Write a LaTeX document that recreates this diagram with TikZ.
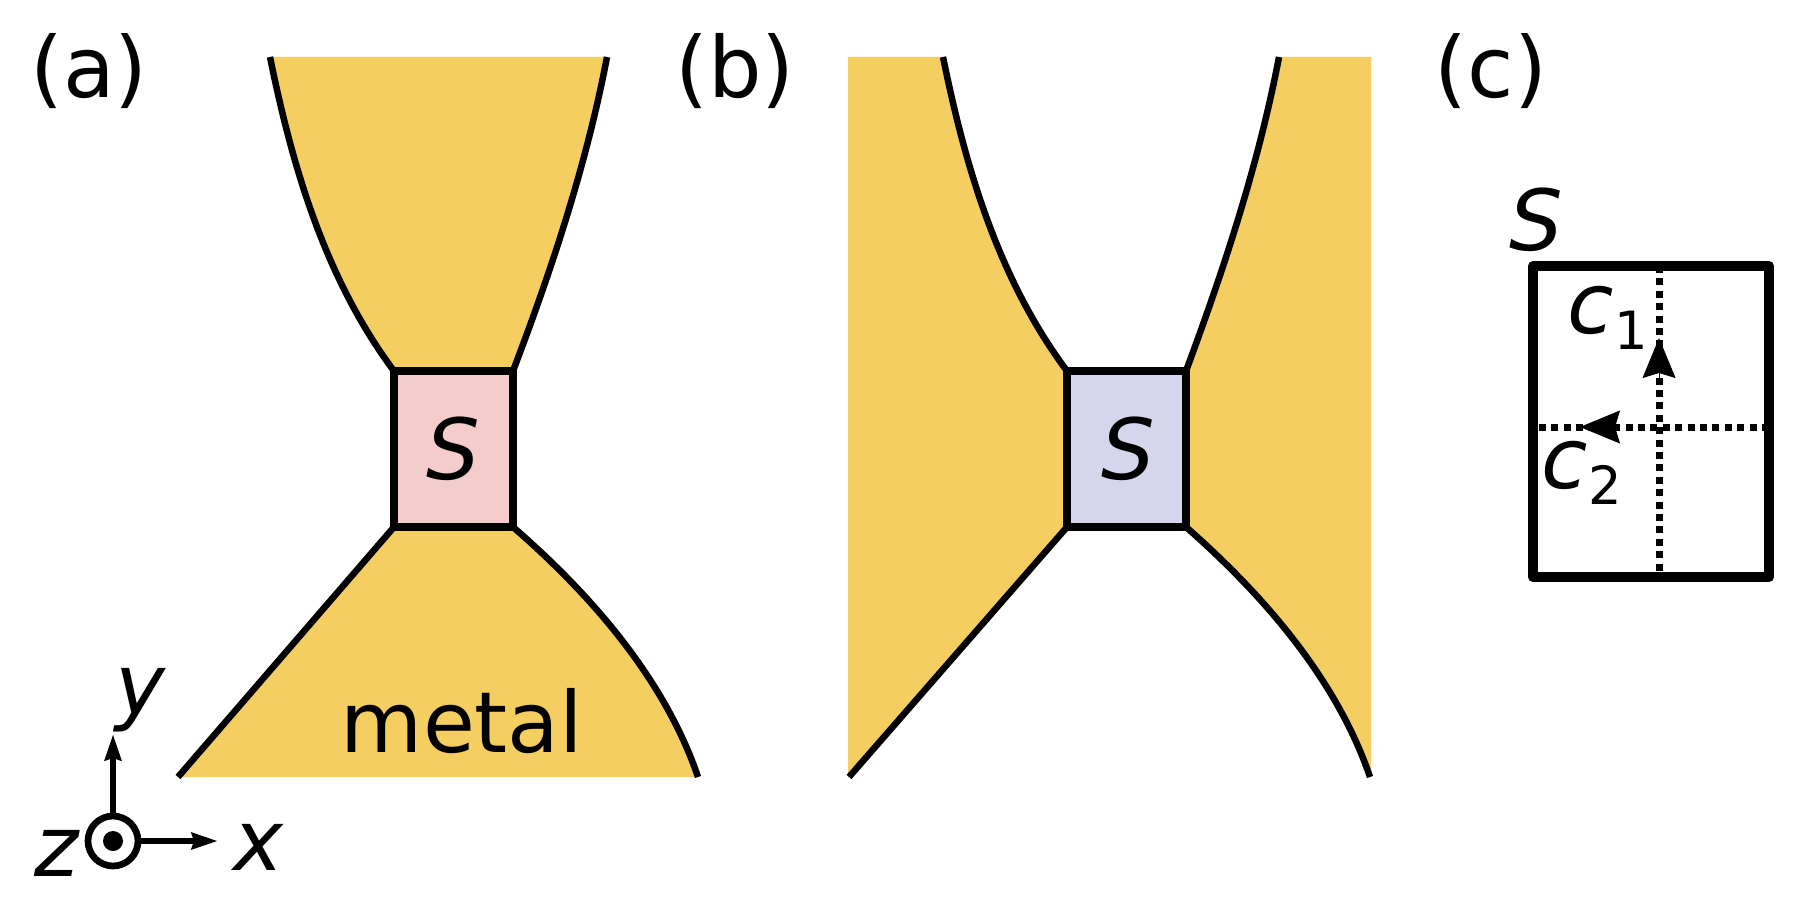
\documentclass[tikz,border=0pt]{standalone}
\usepackage{fontspec}
\setmainfont{DejaVu Sans}
\usetikzlibrary{arrows.meta,backgrounds}
\definecolor{metalcol}{RGB}{244,206,96}
\definecolor{pinkcol}{RGB}{244,204,204}
\definecolor{bluecol}{RGB}{213,214,236}
\tikzset{
    lab/.style = {inner sep=0pt, font=\fontsize{24}{28}\selectfont},
    ital/.style = {lab, font=\fontsize{24}{28}\selectfont\itshape},
    sample/.style = {draw, line width=0.072cm, outer sep=0pt, minimum width=1.19cm, minimum height=1.56cm, ital},
    edge/.style = {line width=0.065cm},
    dots/.style = {line width=0.07cm, dash pattern=on 0.07cm off 0.054cm},
    axis/.style = {line width=0.067cm, -{Stealth[length=0.26cm,width=0.16cm,inset=0.02cm]}},
    dirtip/.style = {line width=0.01cm, -{Stealth[length=0.40cm,width=0.33cm,inset=0.05cm]}}
}
\newcommand{\subnum}[1]{\raisebox{-0.16cm}{\fontsize{15}{15}\selectfont\upshape #1}}
\begin{document}
\begin{tikzpicture}
    \useasboundingbox (0,0) rectangle (17.99,9);
    % panel labels
    \node[lab] (labela) at (0.89,8.29) {(a)};
    \node[lab] (labelb) at (7.35,8.29) {(b)};
    \node[lab] (labelc) at (14.91,8.29) {(c)};
    % panel (a)
    \node[sample, fill=pinkcol] (sa) at (4.535,4.51) {S\hspace{0.12cm}};
    \coordinate (atl) at (2.70,8.43);
    \coordinate (atr) at (6.07,8.43);
    \coordinate (abl) at (1.78,1.23);
    \coordinate (abr) at (6.98,1.23);
    \begin{scope}[on background layer]
    \fill[metalcol] (atl) .. controls (2.91,7.40) and (3.23,6.24) .. (sa.north west) -- (sa.north east) .. controls (5.53,6.34) and (5.87,7.38) .. (atr) -- cycle;
    \fill[metalcol] (sa.south west) -- (abl) -- (abr) .. controls (6.64,2.23) and (5.88,3.08) .. (sa.south east) -- cycle;
    \end{scope}
    \draw[edge] (atl) .. controls (2.91,7.40) and (3.23,6.24) .. (sa.north west);
    \draw[edge] (atr) .. controls (5.87,7.38) and (5.53,6.34) .. (sa.north east);
    \draw[edge] (abl) -- (sa.south west);
    \draw[edge] (abr) .. controls (6.64,2.23) and (5.88,3.08) .. (sa.south east);
    \node[lab] (metal) at (4.62,1.79) {metal};
    % panel (b)
    \node[sample, fill=bluecol] (sb) at (11.265,4.51) {\hspace{0.04cm}S};
    \coordinate (btl) at (9.43,8.43);
    \coordinate (btr) at (12.79,8.43);
    \coordinate (bbl) at (8.49,1.23);
    \coordinate (bbr) at (13.70,1.23);
    \begin{scope}[on background layer]
    \fill[metalcol] (8.48,8.43) -- (btl) .. controls (9.64,7.40) and (9.96,6.24) .. (sb.north west) -- (sb.south west) -- (bbl) -- (8.48,1.23) -- cycle;
    \fill[metalcol] (13.71,8.43) -- (btr) .. controls (12.59,7.38) and (12.25,6.34) .. (sb.north east) -- (sb.south east) .. controls (12.60,3.08) and (13.36,2.23) .. (bbr) -- (13.71,1.23) -- cycle;
    \end{scope}
    \draw[edge] (btl) .. controls (9.64,7.40) and (9.96,6.24) .. (sb.north west);
    \draw[edge] (btr) .. controls (12.59,7.38) and (12.25,6.34) .. (sb.north east);
    \draw[edge] (bbl) -- (sb.south west);
    \draw[edge] (bbr) .. controls (13.36,2.23) and (12.60,3.08) .. (sb.south east);
    % panel (c)
    \node[draw, line width=0.10cm, line join=round, outer sep=0pt, minimum width=2.36cm, minimum height=3.11cm] (box) at (16.51,4.785) {};
    \node[ital] (sc) at (15.36,6.80) {S};
    \coordinate (vtop) at (16.59,6.34);
    \coordinate (vbot) at (16.59,3.23);
    \coordinate (hright) at (17.69,4.73);
    \coordinate (hleft) at (15.33,4.73);
    \draw[dots] (vtop) -- (vbot);
    \draw[dots] (hright) -- (hleft);
    \coordinate (up0) at (16.59,5.20);
    \coordinate (up1) at (16.59,5.62);
    \coordinate (left0) at (16.18,4.73);
    \coordinate (left1) at (15.80,4.73);
    \draw[dirtip] (up0) -- (up1);
    \draw[dirtip] (left0) -- (left1);
    \node[ital, anchor=base west] (cone) at (15.67,5.67) {c\subnum{1}};
    \node[ital, anchor=base west] (ctwo) at (15.41,4.12) {c\subnum{2}};
    % axes
    \node[draw, circle, line width=0.067cm, minimum size=0.50cm, inner sep=0pt, outer sep=0pt] (origin) at (1.13,0.59) {};
    \fill (origin) circle (0.10cm);
    \coordinate (xtip) at (2.18,0.59);
    \coordinate (ytip) at (1.13,1.66);
    \draw[axis] (origin.east) -- (xtip);
    \draw[axis] (origin.north) -- (ytip);
    \node[ital] (xlab) at (2.58,0.53) {x};
    \node[ital, anchor=base] (ylab) at (1.40,1.86) {y};
    \node[ital] (zlab) at (0.57,0.47) {z};
\end{tikzpicture}
\end{document}
